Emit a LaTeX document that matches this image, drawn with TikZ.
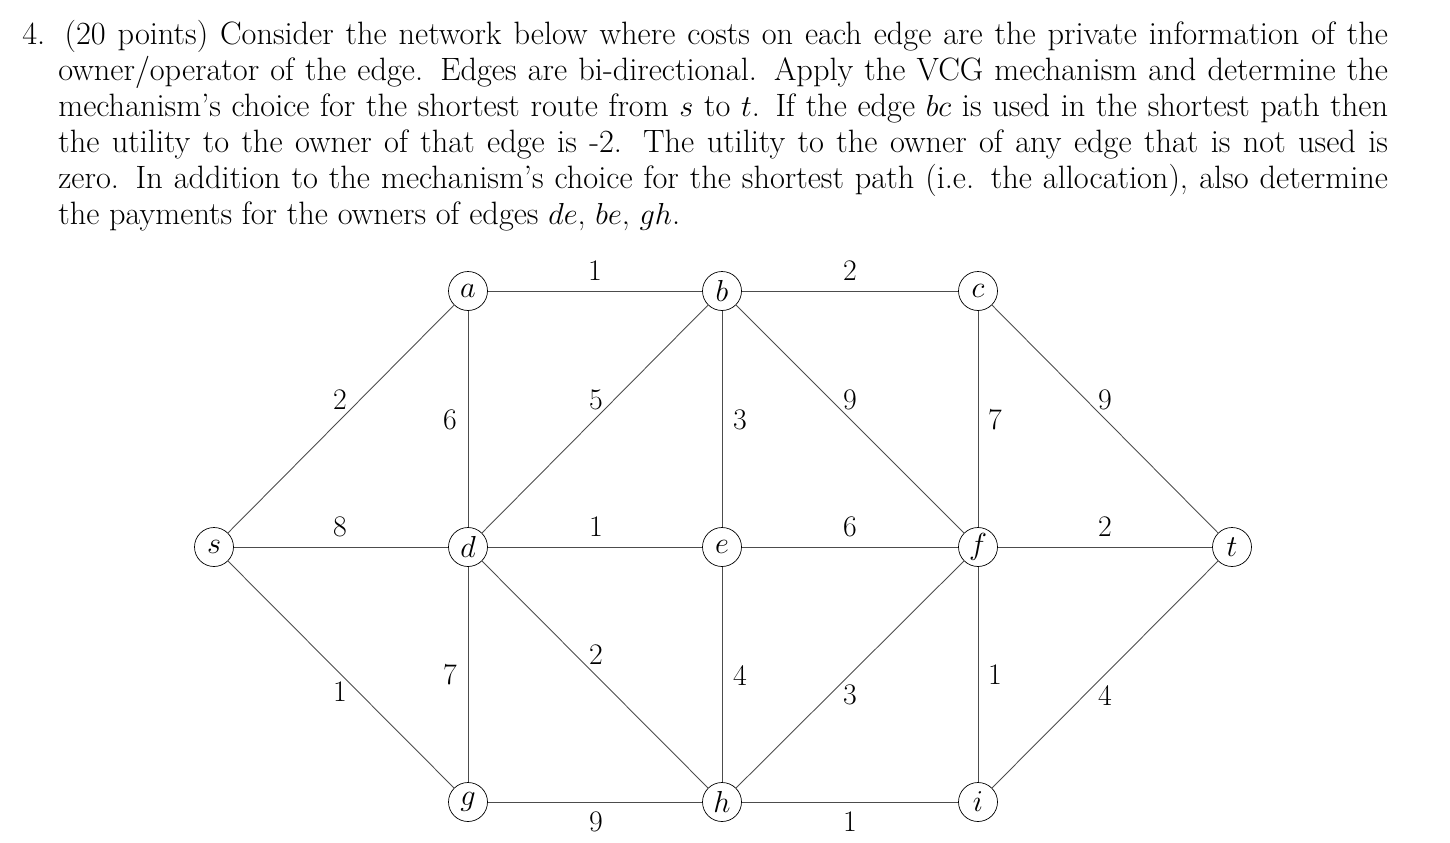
\documentclass[tikz,border=0pt]{standalone}
\begin{document}
\begin{tikzpicture}[x=0.02cm,y=-0.02cm,
  vtx/.style={draw,circle,minimum size=0.78cm,inner sep=0pt,font=\fontsize{17}{20}\selectfont},
  lbl/.style={font=\fontsize{17}{20}\selectfont},
  edge/.style={draw=black!70,line width=0.5pt}]
\useasboundingbox (0,0) rectangle (1450,842);
\node[anchor=north west,inner sep=0pt,text width=27.32cm,font=\fontsize{18.4}{20.5}\selectfont,align=justify] (txt) at (22,20)
{\hyphenpenalty=10000\hangindent=0.72cm\hangafter=1 4. (20 points) Consider the network below where costs on each edge are the private information of the\linebreak owner/operator of the edge. Edges are bi-directional. Apply the VCG mechanism and determine the\linebreak mechanism's choice for the shortest route from $s$ to $t$. If the edge $bc$ is used in the shortest path then\linebreak the utility to the owner of that edge is -2. The utility to the owner of any edge that is not used is\linebreak zero. In addition to the mechanism's choice for the shortest path (i.e. the allocation), also determine\linebreak the payments for the owners of edges $de$, $be$, $gh$.\par};
\node[vtx] (a) at (468,291) {$a$};
\node[vtx] (b) at (722,291) {$b$};
\node[vtx] (c) at (978,291) {$c$};
\node[vtx] (s) at (214,547) {$s$};
\node[vtx] (d) at (468,547) {$d$};
\node[vtx] (e) at (722,547) {$e$};
\node[vtx] (f) at (978,547) {$f$};
\node[vtx] (t) at (1232,547) {$t$};
\node[vtx] (g) at (468,802) {$g$};
\node[vtx] (h) at (722,802) {$h$};
\node[vtx] (i) at (978,802) {$i$};
\foreach \u/\v in {a/b,b/c,s/a,a/d,d/b,b/e,b/f,c/f,c/t,s/d,d/e,e/f,f/t,s/g,d/g,d/h,e/h,f/h,f/i,i/t,g/h,h/i}
  \draw[edge] (\u) -- (\v);
\foreach \n/\x/\y/\t in {l1/595/271/1,l2/850/271/2,l3/340/400/2,l4/450/420/6,l5/596/400/5,l6/740/420/3,l7/850/400/9,l8/995/420/7,l9/1105/400/9,l10/340/527/8,l11/596/527/1,l12/850/527/6,l13/1105/527/2,l14/340/692/1,l15/450/675/7,l16/596/655/2,l17/740/675/4,l18/850/695/3,l19/995/675/1,l20/1105/695/4,l21/596/822/9,l22/850/822/1}
  \node[lbl] (\n) at (\x,\y) {\t};
\end{tikzpicture}
\end{document}
